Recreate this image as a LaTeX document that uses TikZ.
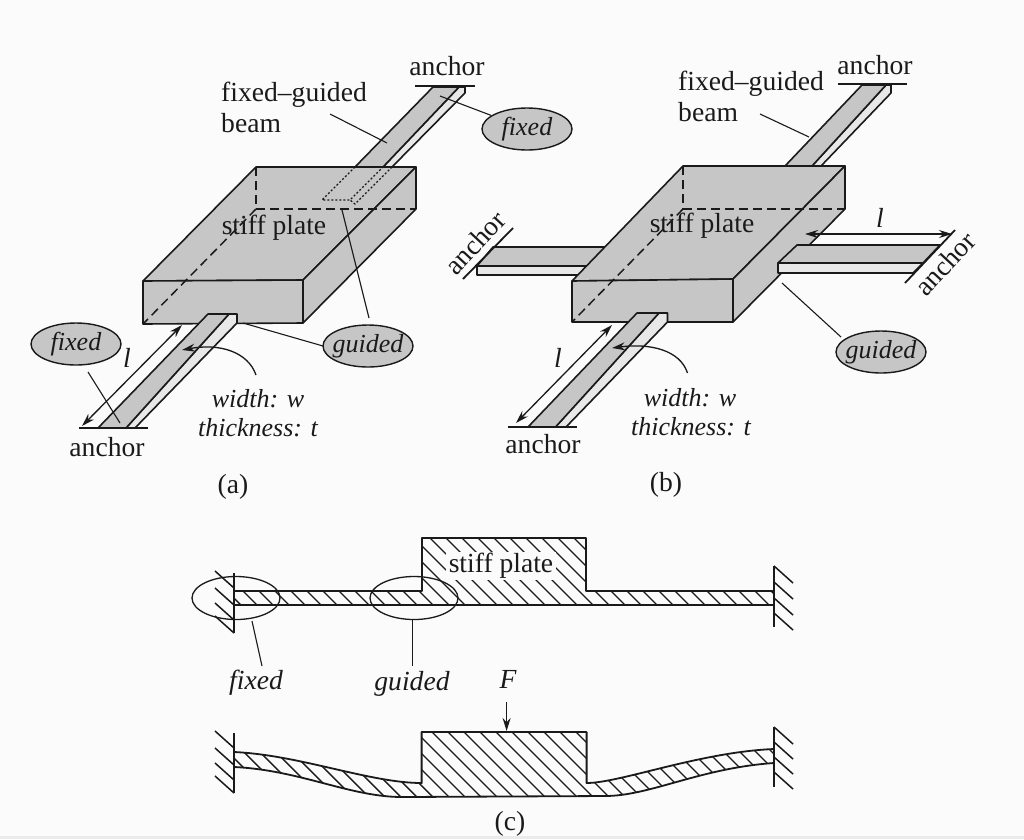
\documentclass[tikz,border=0pt]{standalone}
\usepackage{fontspec}
\setmainfont{Liberation Serif}
\usetikzlibrary{arrows.meta,shapes.geometric}
\definecolor{bggray}{HTML}{FBFBFB}
\definecolor{facegray}{HTML}{C6C6C6}
\definecolor{sidegray}{HTML}{E8E8E8}
\definecolor{inkblack}{HTML}{1A1A1A}
\tikzset{
  lab/.style={font=\fontsize{27.6}{31}\selectfont,text=inkblack,inner sep=0pt},
  itlab/.style={font=\fontsize{27.6}{31}\selectfont\itshape,text=inkblack,inner sep=0pt,align=center},
  smallit/.style={font=\fontsize{26}{30}\selectfont\itshape,text=inkblack,inner sep=0pt,align=center},
  face/.style={draw=inkblack,fill=facegray,line width=1.6pt,line join=round},
  side/.style={draw=inkblack,fill=sidegray,line width=1.6pt,line join=round},
  edgeline/.style={draw=inkblack,line width=1.8pt},
  hidden/.style={draw=inkblack,line width=1.5pt,dash pattern=on 9pt off 5pt},
  hiddot/.style={draw=inkblack,line width=1.2pt,dash pattern=on 2pt off 2pt},
  leader/.style={draw=inkblack,line width=1.1pt},
  dimarrow/.style={draw=inkblack,line width=1.3pt,{Stealth[length=13pt,width=8pt]}-{Stealth[length=13pt,width=8pt]}},
  onearrow/.style={draw=inkblack,line width=1.3pt,-{Stealth[length=13pt,width=8pt]}},
  oval/.style={ellipse,draw=inkblack,fill=facegray,line width=1.4pt,minimum width=90pt,minimum height=42pt,inner xsep=-8pt,inner ysep=-3pt,font=\fontsize{26}{30}\selectfont\itshape,text=inkblack},
  ring/.style={ellipse,draw=inkblack,line width=1.3pt,minimum width=88pt,minimum height=43pt,inner sep=0pt},
  hatchline/.style={draw=inkblack,line width=1.4pt},
  outline/.style={draw=inkblack,line width=1.8pt,line join=round},
  wall/.style={draw=inkblack,line width=1.5pt},
}
\newcommand{\hatchfill}[1]{%
  \begin{scope}
    \clip #1;
    \foreach \c in {-104,-88,...,800}{\draw[hatchline] (\c,500) -- ++(400,400);}
  \end{scope}
  \draw[outline] #1;
}
\newcommand{\plateC}{(234,591) -- (421.6,591) -- (421.6,538) -- (586,538) -- (586,591) -- (774,591) -- (774,605) -- (234,605) -- cycle}
\newcommand{\plateD}{(234,752) .. controls (300,755) and (370,783) .. (421.6,783) -- (421.6,732) -- (586.6,732) -- (586.6,783) .. controls (620,783) and (700,752) .. (774,749) -- (774,763) .. controls (700,768) and (650,796) .. (605,796) -- (402,797) .. controls (350,797) and (300,770) .. (234,767) -- cycle}
\begin{document}
\begin{tikzpicture}[x=1pt,y=-1pt]
\useasboundingbox (0,0) rectangle (1024,839);
\fill[bggray] (0,0) rectangle (1024,839);
\fill[black!8] (0,836) rectangle (1024,839);

% ---------- (a) ----------
\draw[side] (459,87) -- (465,87) -- (465,93) -- (392,167) -- (383,167) -- cycle;
\draw[face] (433,87) -- (459,87) -- (383,167) -- (355,167) -- cycle;
\draw[edgeline] (415,86) -- (475,86);
\draw[face] (143,281) -- (256,167) -- (416,167) -- (303,280) -- cycle;
\draw[face] (143,281) -- (303,280) -- (303,323) -- (143,324) -- cycle;
\draw[face] (303,280) -- (416,167) -- (416,209) -- (303,323) -- cycle;
\draw[hidden] (256,167) -- (256,209);
\draw[hidden] (256,209) -- (416,209);
\draw[hidden] (256,209) -- (143,324);
\draw[hiddot] (355,167) -- (322,200) -- (350,200) -- (383,167);
\draw[hiddot] (392,167) -- (355,204) -- (350,200);
\draw[side] (229,314) -- (237,314) -- (237,323) -- (135,428) -- (126,428) -- cycle;
\draw[face] (208,314) -- (229,314) -- (126,428) -- (98,428) -- cycle;
\draw[edgeline] (79,428) -- (148,428);

\node[lab] (anchorAt) at (447,66) {anchor};
\node[lab,anchor=west] (fgA) at (221,95) {fixed–guided};
\node[lab,anchor=west] (beamA) at (221,123) {beam};
\node[lab] (plateA) at (274,228) {stiff plate};
\node[oval] (fixedAt) at (527,129) {fixed};
\node[oval] (fixedAb) at (76,344) {fixed};
\node[oval] (guidedA) at (368,346) {guided};
\node[lab] (anchorAb) at (107,447) {anchor};
\node[smallit] (widthA) at (258,399) {width: w};
\node[smallit] (thickA) at (258,428) {thickness: t};
\node[itlab] (lA) at (127,358) {l};
\node[lab] (capA) at (233,487) {(a)};

\coordinate (aBeamPt) at (387,143);
\coordinate (aFixTop) at (440,96);
\coordinate (aFixBot) at (120,423);
\coordinate (aGuid1) at (243,323);
\coordinate (aGuid2) at (342,210);
\coordinate (aL1) at (182,325);
\coordinate (aL2) at (82,426);
\coordinate (aW1) at (256,375);
\coordinate (aW2) at (182,350);
\draw[leader] (330,114) -- (aBeamPt);
\draw[leader] (fixedAt) -- (aFixTop);
\draw[leader] (fixedAb) ++(12,28) -- (aFixBot);
\draw[leader] (guidedA) ++(-45,0) -- (aGuid1);
\draw[leader] (guidedA) ++(1,-28) -- (aGuid2);
\draw[dimarrow] (aL1) -- (aL2);
\draw[onearrow] (aW1) .. controls (248,352) and (220,343) .. (aW2);

% ---------- (b) ----------
\draw[side] (886,85) -- (891,85) -- (891,93) -- (821,166) -- (812,166) -- cycle;
\draw[face] (862,85) -- (886,85) -- (812,166) -- (785,166) -- cycle;
\draw[edgeline] (838,84) -- (907,84);
\draw[face] (493,247) -- (620,247) -- (620,266) -- (477,266) -- cycle;
\draw[side] (477,266) -- (620,266) -- (620,275) -- (477,275) -- cycle;
\draw[edgeline] (463,279) -- (513,228);
\draw[face] (572,281) -- (683,166) -- (845,166) -- (733,279) -- cycle;
\draw[face] (572,281) -- (733,279) -- (733,322) -- (572,322) -- cycle;
\draw[face] (733,279) -- (845,166) -- (845,209) -- (733,322) -- cycle;
\draw[hidden] (683,166) -- (683,209);
\draw[hidden] (683,209) -- (845,209);
\draw[hidden] (683,209) -- (572,322);
\draw[side] (778,263) -- (923,263) -- (913,273) -- (778,273) -- cycle;
\draw[face] (797,245) -- (940,245) -- (923,263) -- (778,263) -- cycle;
\draw[edgeline] (905,283) -- (955,230);
\draw[side] (659,313) -- (667.5,313) -- (667.5,322) -- (566,427) -- (555.5,427) -- cycle;
\draw[face] (637,313) -- (659,313) -- (555.5,427) -- (528,427) -- cycle;
\draw[edgeline] (508,427) -- (577,427);

\node[lab] (anchorBt) at (875,65) {anchor};
\node[lab,anchor=west] (fgB) at (678,84) {fixed–guided};
\node[lab,anchor=west] (beamB) at (678,112) {beam};
\node[lab] (plateB) at (702,226) {stiff plate};
\node[lab,rotate=47] (anchorBl) at (475,243) {anchor};
\node[lab,rotate=47] (anchorBr) at (945,264) {anchor};
\node[oval] (guidedB) at (881,352) {guided};
\node[lab] (anchorBb) at (543,444) {anchor};
\node[smallit] (widthB) at (690,398) {width: w};
\node[smallit] (thickB) at (691,427) {thickness: t};
\node[itlab] (lB) at (558,358) {l};
\node[itlab] (lBr) at (880,218) {l};
\node[lab] (capB) at (666,485) {(b)};

\coordinate (bBeamPt) at (809,137);
\coordinate (bGuid) at (782,283);
\coordinate (bL1) at (612,325);
\coordinate (bL2) at (516,423);
\coordinate (bR1) at (805,234);
\coordinate (bR2) at (952,234);
\coordinate (bW1) at (687.5,373);
\coordinate (bW2) at (612,348);
\draw[leader] (760,114) -- (bBeamPt);
\draw[leader] (guidedB) ++(-40,-15) -- (bGuid);
\draw[dimarrow] (bL1) -- (bL2);
\draw[dimarrow] (bR1) -- (bR2);
\draw[onearrow] (bW1) .. controls (680,350) and (650,343) .. (bW2);

% ---------- (c) upper ----------
\hatchfill{\plateC}
\node[lab,fill=bggray,inner xsep=3pt,inner ysep=1pt] (plateC) at (501,566) {stiff plate};
\draw[wall] (234,573) -- (234,633);
\foreach \y in {588,605,620,633}{\draw[wall] (234,\y) -- ++(-19,-17);}
\draw[wall] (774,566) -- (774,627);
\foreach \y in {566,582,598,613}{\draw[wall] (774,\y) -- ++(19,17);}
\node[ring] (ringFix) at (236,598) {};
\node[ring] (ringGuid) at (414,598) {};
\node[itlab] (fixedC) at (256,683) {fixed};
\node[itlab] (guidedC) at (412,684) {guided};
\node[itlab] (forceC) at (508,679) {F};
\coordinate (cFixEnd) at (262,666);
\coordinate (cGuidEnd) at (412.5,666);
\coordinate (cF1) at (506.6,702);
\coordinate (cF2) at (506.6,731);
\draw[leader] (252,621) -- (cFixEnd);
\draw[leader] (412.5,620) -- (cGuidEnd);
\draw[onearrow] (cF1) -- (cF2);

% ---------- (c) lower ----------
\hatchfill{\plateD}
\draw[wall] (234,733) -- (234,793);
\foreach \y in {748,765,780,793}{\draw[wall] (234,\y) -- ++(-19,-17);}
\draw[wall] (774,727) -- (774,787);
\foreach \y in {727,742,757,772}{\draw[wall] (774,\y) -- ++(19,17);}
\node[lab] (capC) at (510,824) {(c)};
\end{tikzpicture}
\end{document}
